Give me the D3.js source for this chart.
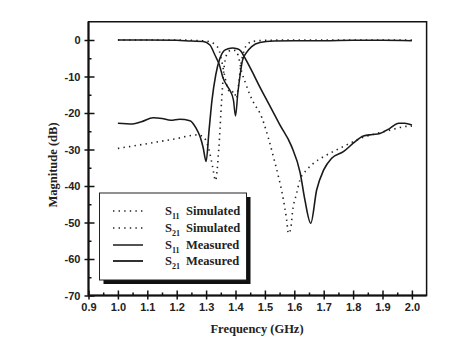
<!DOCTYPE html>
<html><head><meta charset="utf-8">
<script src="https://cdn.jsdelivr.net/npm/d3@7"></script>
<style>body{margin:0;background:#fff}svg{display:block}</style>
</head><body>
<svg id="c" width="474" height="357"></svg>
<script>
const xTicks = [0.9,1.0,1.1,1.2,1.3,1.4,1.5,1.6,1.7,1.8,1.9,2.0];
const xMinor = [0.95,1.05,1.15,1.25,1.35,1.45,1.55,1.65,1.75,1.85,1.95];
const yTicks = [0,-10,-20,-30,-40,-50,-60,-70];
const yMinor = [-5,-15,-25,-35,-45,-55,-65];

const s21MeasF = [1.0,1.05,1.08,1.12,1.15,1.18,1.21,1.245,1.265,1.28,1.29,1.30,1.31,1.32,1.333,1.347,1.36,1.375,1.39,1.405,1.418,1.432,1.455,1.483,1.52,1.55,1.59,1.62,1.636,1.656,1.676,1.70,1.727,1.767,1.806,1.835,1.865,1.891,1.925,1.955,1.975,2.0];
const s21MeasV = [-22.8,-23.0,-22.4,-21.3,-21.5,-22.0,-21.7,-22.1,-24.0,-26.6,-29.5,-33.3,-24.8,-16.5,-9.5,-5.0,-3.0,-2.4,-2.2,-2.4,-3.0,-4.9,-8.4,-12.9,-18.5,-23.1,-29.0,-36.4,-43.8,-50.2,-41.1,-35.6,-32.4,-30.6,-27.9,-26.3,-25.9,-25.6,-24.2,-22.8,-22.8,-23.3];

const s21SimF = [1.0,1.1,1.2,1.268,1.29,1.31,1.322,1.332,1.343,1.353,1.36,1.37,1.385,1.40,1.41,1.421,1.435,1.449,1.466,1.483,1.512,1.529,1.546,1.563,1.574,1.58,1.588,1.594,1.608,1.619,1.642,1.665,1.699,1.744,1.789,1.83,1.88,1.93,1.977,2.0];
const s21SimV = [-29.7,-28.4,-27.0,-26.0,-26.5,-30.1,-34.7,-38.5,-30.0,-16.4,-8.5,-4.0,-2.8,-2.9,-4.5,-8.7,-12.0,-15.0,-17.8,-20.0,-26.9,-32.0,-37.4,-43.8,-49.3,-53.0,-51.6,-47.0,-42.0,-38.4,-35.6,-33.8,-32.0,-30.1,-28.3,-26.8,-25.6,-24.6,-23.7,-23.6];

const s11MeasF = [1.0,1.1,1.2,1.25,1.29,1.313,1.33,1.345,1.358,1.37,1.381,1.393,1.40,1.408,1.415,1.424,1.436,1.455,1.483,1.53,1.6,1.7,1.8,1.9,2.0];
const s11MeasV = [0,0,-0.1,-0.3,-0.4,-1.4,-4.1,-6.8,-10.5,-12.4,-13.8,-16.5,-20.8,-14.5,-10.0,-5.5,-3.6,-1.8,-0.7,-0.3,-0.2,-0.2,-0.1,-0.1,-0.2];

const s11SimF = [1.0,1.1,1.2,1.3,1.33,1.345,1.355,1.365,1.375,1.385,1.395,1.403,1.41,1.418,1.428,1.44,1.46,1.5,1.6,1.8,2.0];
const s11SimV = [0,0,0,-0.3,-1.2,-3.0,-6.5,-10.5,-13.5,-14.5,-14.0,-16.0,-12.5,-7.0,-3.2,-1.2,-0.4,-0.1,0,0,0];

const legendLabels = [["11","Simulated"],["21","Simulated"],["11","Measured"],["21","Measured"]];

const svg = d3.select("#c");
const x = d3.scaleLinear().domain([0.9,2.05]).range([88.5,426.6]);
const y = d3.scaleLinear().domain([-70,5]).range([295.5,21.75]);

// frame
svg.append("rect").attr("x",x(0.9)).attr("y",y(5)).attr("width",x(2.05)-x(0.9)).attr("height",y(-70)-y(5))
  .attr("fill","none").attr("stroke","#111").attr("stroke-width",1.5);

function styleAxis(g){ g.select(".domain").remove(); g.selectAll("line").attr("stroke","#111").attr("stroke-width",1.5); }
const tickFont = "bold 11px 'Liberation Sans', Arial, sans-serif";

// x axis
svg.append("g").attr("transform",`translate(0,${y(-70)})`)
  .call(d3.axisBottom(x).tickValues(xTicks).tickSize(4).tickPadding(4).tickFormat(d3.format(".1f")))
  .call(styleAxis).call(g=>g.selectAll("text").style("font",tickFont).attr("fill","#222"));
svg.append("g").attr("transform",`translate(0,${y(-70)})`)
  .call(d3.axisBottom(x).tickValues(xTicks).tickSize(-5).tickFormat(""))
  .call(styleAxis);
svg.append("g").attr("transform",`translate(0,${y(-70)})`)
  .call(d3.axisBottom(x).tickValues(xMinor).tickSize(-3).tickFormat(""))
  .call(styleAxis);
// y axis
svg.append("g").attr("transform",`translate(${x(0.9)},0)`)
  .call(d3.axisLeft(y).tickValues(yTicks).tickSize(4).tickPadding(4).tickFormat(d=>String(d)))
  .call(styleAxis).call(g=>g.selectAll("text").style("font",tickFont).attr("fill","#222"));
svg.append("g").attr("transform",`translate(${x(0.9)},0)`)
  .call(d3.axisLeft(y).tickValues(yTicks).tickSize(-6).tickFormat(""))
  .call(styleAxis);
svg.append("g").attr("transform",`translate(${x(0.9)},0)`)
  .call(d3.axisLeft(y).tickValues(yMinor).tickSize(-3).tickFormat(""))
  .call(styleAxis);
// thicker left/bottom axis lines
svg.append("line").attr("x1",x(0.9)).attr("x2",x(2.05)).attr("y1",y(-70)).attr("y2",y(-70)).attr("stroke","#111").attr("stroke-width",2);
svg.append("line").attr("x1",x(0.9)).attr("x2",x(0.9)).attr("y1",y(5)).attr("y2",y(-70)).attr("stroke","#111").attr("stroke-width",2);

// titles
svg.append("text").attr("x",257).attr("y",333).attr("text-anchor","middle")
  .style("font","bold 12.5px 'Liberation Serif', 'Times New Roman', serif").attr("fill","#222").text("Frequency (GHz)");
svg.append("text").attr("transform","translate(57,165) rotate(-90)").attr("text-anchor","middle")
  .style("font","bold 12.5px 'Liberation Serif', 'Times New Roman', serif").attr("fill","#222").text("Magnitude (dB)");

// curves
const line = d3.line().x(d=>x(d[0])).y(d=>y(d[1])).curve(d3.curveMonotoneX);
const zip = (f,v)=>f.map((d,i)=>[d,v[i]]);
const dotted = {"stroke":"#222","stroke-width":1.6,"stroke-dasharray":"1.4,4.2","stroke-linecap":"butt"};
function draw(data, style){
  const p = svg.append("path").attr("d",line(data)).attr("fill","none");
  Object.entries(style).forEach(([k,v])=>p.attr(k,v));
}
draw(zip(s11SimF,s11SimV), dotted);
draw(zip(s21SimF,s21SimV), dotted);
draw(zip(s11MeasF,s11MeasV), {"stroke":"#1a1a1a","stroke-width":1.5});
draw(zip(s21MeasF,s21MeasV), {"stroke":"#1a1a1a","stroke-width":1.6});

// legend
const lg = svg.append("g");
lg.append("rect").attr("x",103.5).attr("y",197).attr("width",147).attr("height",87).attr("fill","#111");
lg.append("rect").attr("x",99.5).attr("y",193).attr("width",147).attr("height",87).attr("fill","#fff").attr("stroke","#222").attr("stroke-width",1);
const rowsY = [211,228,245,261];
const legendStyles = [dotted, dotted, {"stroke":"#1a1a1a","stroke-width":1.5},{"stroke":"#1a1a1a","stroke-width":1.8}];
legendLabels.forEach((lab,i)=>{
  const ly = rowsY[i];
  const l = lg.append("line").attr("x1",113).attr("x2",143).attr("y1",ly).attr("y2",ly);
  Object.entries(legendStyles[i]).forEach(([k,v])=>l.attr(k,v));
  const t = lg.append("text").attr("x",165).attr("y",ly+4).attr("fill","#222")
    .style("font","bold 12.5px 'Liberation Serif', 'Times New Roman', serif");
  t.append("tspan").text("S");
  t.append("tspan").attr("dy",4).style("font-size","8px").text(lab[0]);
  lg.append("text").attr("x",186).attr("y",ly+4).attr("fill","#222")
    .style("font","bold 12.5px 'Liberation Serif', 'Times New Roman', serif").text(lab[1]);
});
</script>
</body></html>
